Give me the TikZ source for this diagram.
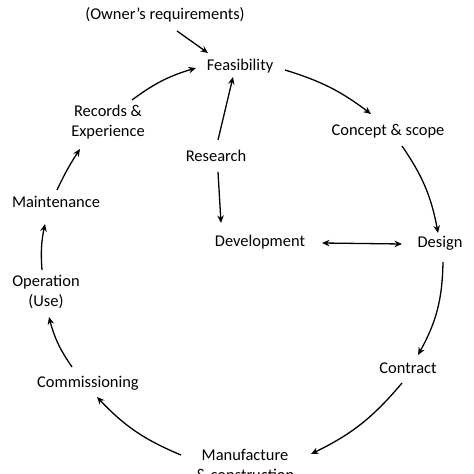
\documentclass[tikz,border=0pt]{standalone}
\usepackage{fontspec}
\setmainfont{Carlito}
\usetikzlibrary{arrows.meta}
\begin{document}
\begin{tikzpicture}[x=1bp,y=-1bp,
  lbl/.style={inner sep=0pt,align=center,font=\fontsize{16.5}{20}\selectfont,text=black},
  arr/.style={line width=1.3bp,black,-{Stealth[length=7.5bp,width=6.5bp]}},
  darr/.style={line width=1.3bp,black,{Stealth[length=7.5bp,width=6.5bp]}-{Stealth[length=7.5bp,width=6.5bp]}}]
\useasboundingbox (0,0) rectangle (474,474);
\fill[white] (0,0) rectangle (474,474);
\node[lbl] (own) at (165,15) {(Owner’s requirements)};
\node[lbl] (feas) at (240,66) {Feasibility};
\node[lbl] (rec) at (108,122) {Records \&\\Experience};
\node[lbl] (con) at (388,131) {Concept \& scope};
\node[lbl] (res) at (216,156) {Research};
\node[lbl] (maint) at (56,202) {Maintenance};
\node[lbl] (dev) at (260,242) {Development};
\node[lbl] (des) at (440,243) {Design};
\node[lbl] (op) at (46,292) {Operation\\(Use)};
\node[lbl] (contr) at (408,368) {Contract};
\node[lbl] (comm) at (88,383) {Commissioning};
\node[lbl] (manu) at (245,465) {Manufacture\\\& construction};

\draw[arr] ([shift={(12,16)}]own.center) -- ([shift={(-32,-13)}]feas.center);
\draw[arr] ([shift={(24,-22)}]rec.center) to[bend left=10] ([shift={(-44,2)}]feas.center);
\draw[arr] ([shift={(45,4)}]feas.center) to[bend left=10] ([shift={(-17,-17)}]con.center);
\draw[arr] ([shift={(2,-16)}]res.center) -- ([shift={(-7,11)}]feas.center);
\draw[arr] ([shift={(2,16)}]res.center) -- ([shift={(-39,-19)}]dev.center);
\draw[arr] ([shift={(14,15)}]con.center) to[bend left=12] ([shift={(-2,-10)}]des.center);
\draw[darr] ([shift={(62,1)}]dev.center) -- ([shift={(-38,1)}]des.center);
\draw[arr] ([shift={(3,19)}]des.center) to[bend left=14] ([shift={(10,-13)}]contr.center);
\draw[arr] ([shift={(-6,15)}]contr.center) to[bend left=12] ([shift={(66,-11)}]manu.center);
\draw[arr] ([shift={(-64,-10)}]manu.center) to[bend left=12] ([shift={(9,14)}]comm.center);
\draw[arr] ([shift={(-16,-16)}]comm.center) to[bend left=10] ([shift={(3,25)}]op.center);
\draw[arr] ([shift={(-4,-22)}]op.center) to[bend left=8] ([shift={(-11,22)}]maint.center);
\draw[arr] ([shift={(1,-12)}]maint.center) to[bend left=4] ([shift={(-28,27)}]rec.center);
\end{tikzpicture}
\end{document}
